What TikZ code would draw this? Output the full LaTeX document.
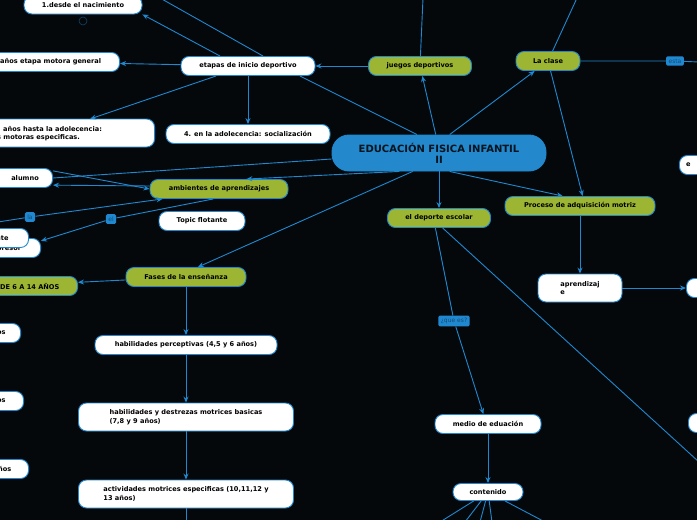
\documentclass[tikz,border=0pt]{standalone}
\usepackage{fontspec}
\setmainfont{DejaVu Sans}
\usetikzlibrary{arrows.meta}
\definecolor{bg}{HTML}{05080B}
\definecolor{ln}{HTML}{2088D0}
\definecolor{gr}{HTML}{9CB634}
\definecolor{ctr}{HTML}{2488CC}
\begin{document}
\begin{tikzpicture}[x=1pt,y=-1pt,
  base/.style={draw=ln,line width=0.9pt,rounded corners=8pt,inner sep=0pt,font=\fontsize{6.6}{8.5}\selectfont\bfseries,text=black},
  wb/.style={base,fill=white,minimum height=19pt},
  gb/.style={base,fill=gr,minimum height=19pt},
  tx/.style={inner sep=0pt,anchor=west,font=\fontsize{6.6}{8.5}\selectfont\bfseries,text=black,align=left},
  tag/.style={fill=ln,rounded corners=1.5pt,inner sep=2.5pt,font=\fontsize{6}{6.5}\selectfont,text=black!45!ln},
  ed/.style={draw=ln,line width=0.9pt},
  ar/.style={ed,-{Stealth[length=6pt,width=5pt]}}]
\fill[bg] (0,0) rectangle (697,520);
\clip (0,0) rectangle (697,520);
% nodes
\node[base,fill=ctr,minimum width=214pt,minimum height=36pt,rounded corners=17pt,font=\fontsize{10}{11}\selectfont\bfseries,text=black!85!ctr,align=center] (c) at (439,153) {EDUCACIÓN FISICA INFANTIL\\II};
\node[wb,minimum width=118pt,minimum height=18pt] (n1) at (83,5) {1.desde el nacimiento};
\node[wb,minimum width=150pt,anchor=east] (n2) at (120,62) {};
\node[tx] at (0,62) {años etapa motora general};
\node[wb,minimum width=134pt] (et) at (248,66) {etapas de inicio deportivo};
\node[gb,minimum width=103pt] (jd) at (420,66) {juegos deportivos};
\node[gb,minimum width=64pt] (lc) at (548,61) {La clase};
\node[tag] (esta) at (675,61) {esta};
\node[wb,minimum width=40pt,anchor=west] (re1) at (679,165) {\hspace*{-22pt}e};
\node[wb,minimum width=220pt,minimum height=28pt,anchor=east] (n3) at (155,133) {};
\node[tx] at (3,129) {años hasta la adolecencia:};
\node[tx] at (-3,138) {s motoras especificas.};
\node[wb,minimum width=164pt] (n4) at (248,134) {4. en la adolecencia: socialización};
\node[wb,minimum width=80pt,anchor=east] (al) at (53,178) {\hspace*{25pt}alumno};
\node[gb,minimum width=138pt] (am) at (219,189) {ambientes de aprendizajes};
\node[wb,minimum width=86pt] (tf) at (202,221) {Topic flotante};
\node[wb,minimum width=80pt,anchor=east] (pr) at (41,248) {};
\node[tx] at (-3,249) {oresor};
\node[wb,minimum width=80pt,anchor=east] (nt) at (29,238) {};
\node[tx] at (-4,238) {nte};
\node[tag] (la) at (30,217) {la};
\node[tag] (el) at (111,219) {el};
\node[gb,minimum width=120pt] (fa) at (186,277) {Fases de la enseñanza};
\node[gb,minimum width=150pt,anchor=east] (de) at (78,286) {};
\node[tx] at (0,286) {DE 6 A 14 AÑOS};
\node[gb,minimum width=103pt] (ds) at (439,218) {el deporte escolar};
\node[gb,minimum width=150pt] (pa) at (580,206) {Proceso de adquisición motriz};
\node[wb,minimum width=84pt,minimum height=28pt,align=left] (ap) at (580,288) {aprendizaj\\e\hspace*{34pt}};
\node[wb,minimum width=40pt,anchor=west] (re2) at (686,288) {};
\node[tag] (qe) at (454,321) {¿que es?};
\node[wb,minimum width=106pt] (me) at (488,424) {medio de eduación};
\node[wb,minimum width=70pt,minimum height=17pt] (co) at (488,492) {contenido};
\node[wb,minimum width=182pt] (h1) at (186,345) {habilidades perceptivas (4,5 y 6 años)};
\node[wb,minimum width=215pt,minimum height=28pt,align=left] (h2) at (186,417) {habilidades y destrezas motrices basicas\\(7,8 y 9 años)\hspace*{20pt}};
\node[wb,minimum width=215pt,minimum height=28pt,align=left] (h3) at (186,494) {actividades motrices especificas (10,11,12 y\\13 años)};
\node[wb,minimum width=60pt,anchor=east] (l1) at (21,333) {};
\node[tx] at (-3,333) {os};
\node[wb,minimum width=60pt,anchor=east] (l2) at (24,401) {};
\node[tx] at (-3,401) {os};
\node[wb,minimum width=60pt,anchor=east] (l3) at (29,469) {};
\node[tx] at (-2,469) {ños};
\node[wb,minimum width=40pt,anchor=west] (re3) at (688,423) {};
\node[draw=ln!50!black,circle,inner sep=0pt,minimum size=8pt,line width=0.6pt] (ic) at (83,21) {};
% off-screen coords
\coordinate (t1) at (160,-2); \coordinate (t2) at (423,-2); \coordinate (t3) at (577,-2);
\coordinate (r1) at (699,62); \coordinate (r2) at (699,462); \coordinate (lf) at (-2,222);
% edges
\draw[ed] (t1) -- (263,56);
\draw[ed] (c.140) -- (300,76);
\draw[ar] (jd) -- (et);
\draw[ar] (220,56) -- (n1.south east);
\draw[ar] (et) -- (n2);
\draw[ar] (216,76) -- (90,119);
\draw[ar] (et) -- (n4);
\draw[ar] (c.100) -- (jd);
\draw[ed] (jd) -- (t2);
\draw[ar] (c.60) -- (lc);
\draw[ed] (lc) -- (t3);
\draw[ed] (lc) -- (esta) -- (r1);
\draw[ar] (lc) -- (pa.75);
\draw[ar] (c.-60) -- (pa.150);
\draw[ar] (c) -- (ds);
\draw[ar] (pa) -- (ap);
\draw[ar] (ap) -- (re2);
\draw[ed] (ds.-110) -- (qe);
\draw[ar] (qe) -- (me.115);
\draw[ed] (ds.-70) -- (r2);
\draw[ar] (me) -- (co);
\foreach \x/\y in {440/522,465/522,480/522,492/522,545/522}{\draw[ed] (co) -- (\x,\y);}
\draw[ed] (c.west) ++(0,6) -- (al.east);
\draw[ar] (c.-155) -- (am.20);
\draw[ar] (am.west) ++(0,-3) -- (al.-10);
\draw[ar] (al.10) -- (am.180);
\draw[ed] (lf) -- (la); \draw[ar] (la) -- (am.-170);
\draw[ed] (am.-120) -- (el); \draw[ar] (el) -- (pr.10);
\draw[ar] (c.-145) -- (fa.40);
\draw[ar] (fa) -- (de);
\draw[ar] (fa) -- (h1);
\draw[ar] (h1) -- (h2);
\draw[ar] (h2) -- (h3);
\draw[ed] (h3) -- (186,522);
\end{tikzpicture}
\end{document}
